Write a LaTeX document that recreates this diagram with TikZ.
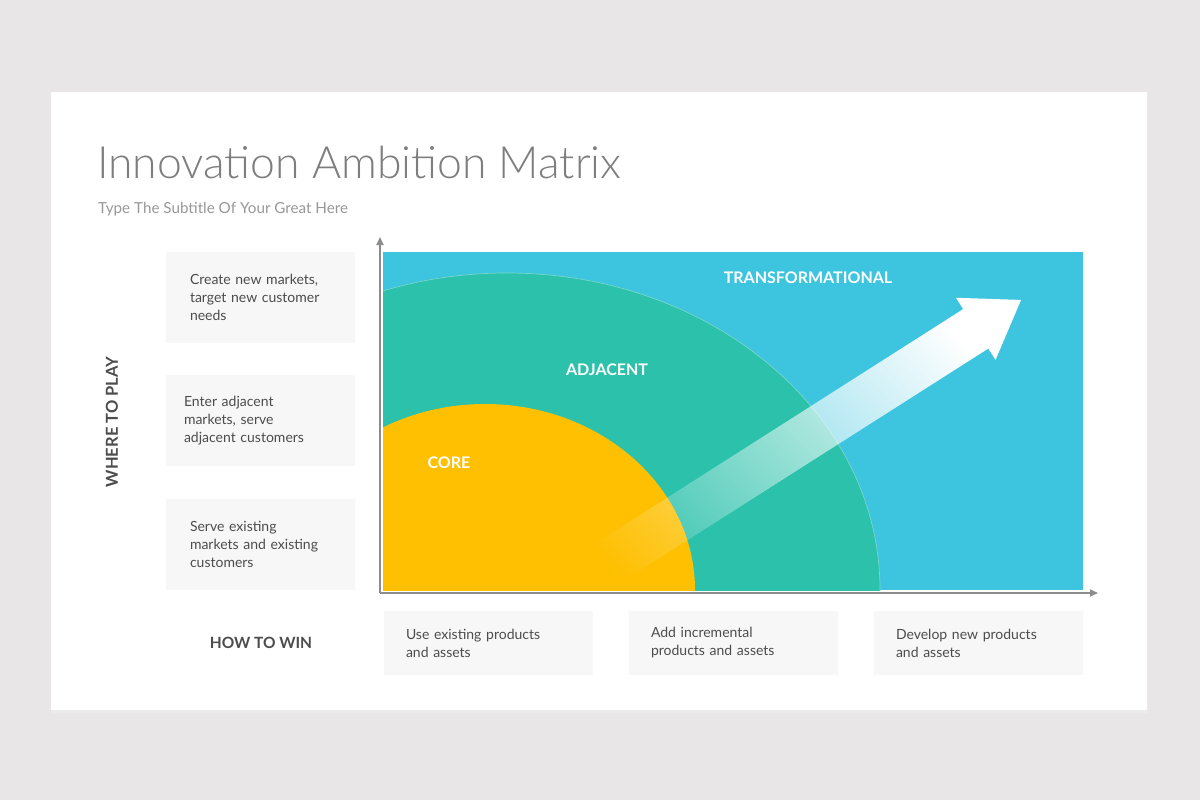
\documentclass[tikz,border=0pt]{standalone}
\usepackage{fontspec}
\setmainfont{Lato}
\newfontfamily\titlefont{Lato Light}
\usetikzlibrary{arrows.meta,fadings}
\definecolor{slidebg}{HTML}{E8E6E7}
\definecolor{boxgray}{HTML}{F7F7F7}
\definecolor{textgray}{HTML}{4C4C4C}
\definecolor{titlegray}{HTML}{7E7E7E}
\definecolor{axisgray}{HTML}{8C8C8C}
\definecolor{transblue}{HTML}{3DC5E0}
\definecolor{adjteal}{HTML}{2BC1AB}
\definecolor{coreyellow}{HTML}{FEC000}
\tikzfading[name=arrowfade, left color=transparent!100, right color=transparent!0]
\def\chartleft{383}
\def\chartright{1083}
\def\charttop{252}
\def\chartbottom{590}

\begin{document}
\begin{tikzpicture}[x=1pt,y=-1pt]
        \tikzstyle{sidebox}=[fill=boxgray, minimum width=189pt, minimum height=91pt, inner sep=0pt, align=left, text=textgray, font=\fontsize{14}{18}\selectfont]
        \tikzstyle{winbox}=[sidebox, minimum width=209pt, minimum height=64pt, text width=165pt]
        \tikzstyle{zone}=[text=white, font=\bfseries\fontsize{16}{18}\selectfont]
        \tikzstyle{axislabel}=[text=textgray, font=\bfseries\fontsize{16.5}{18}\selectfont]
        \tikzstyle{axis}=[draw=axisgray, line width=1.8pt, -{Triangle[length=8pt,width=7pt]}]

        \useasboundingbox (0,0) rectangle (1200,800);
        \fill[slidebg] (0,0) rectangle (1200,800);

        % Draw the slide card with its shadow
        \fill[black!8] (52,94) rectangle (1148,713);
        \fill[white] (51,92) rectangle (1147,710);

        % Title and subtitle
        \node[anchor=base west, inner sep=0pt, text=titlegray, font=\titlefont\fontsize{44.5}{46}\selectfont] (title) at (97,178) {Innovation Ambition Matrix};
        \node[anchor=base west, inner sep=0pt, text=titlegray!80, font=\fontsize{15.2}{18}\selectfont] (subtitle) at (98,213) {Type The Subtitle Of Your Great Here};

        % Draw the where-to-play boxes
        \foreach \name / \y / \tw / \txt in {1/297.5/141/{Create new markets,\\target new customer\\needs},
                2/420.5/153/{Enter adjacent\\markets, serve\\adjacent customers},
                3/544/141/{Serve existing\\markets and existing\\customers}}
        \node[sidebox, text width=\tw pt] (P-\name) at (260.5,\y) {\txt};

        % Draw the how-to-win boxes
        \foreach \name / \x / \txt in {1/488.5/{Use existing products\\and assets},
                2/733.5/{Add incremental\\products and assets},
                3/978.5/{Develop new products\\and assets}}
        \node[winbox] (W-\name) at (\x,643) {\txt};

        % Axis labels
        \node[axislabel, rotate=90] (play) at (112,422) {WHERE TO PLAY};
        \node[axislabel, font=\bfseries\fontsize{15.5}{18}\selectfont] (win) at (261,643) {HOW TO WIN};

        % Draw the three ambition zones
        \fill[transblue] (\chartleft,\charttop) rectangle (\chartright,\chartbottom);
        \begin{scope}
            \clip (\chartleft,\charttop) rectangle (\chartright,\chartbottom);
            \fill[adjteal, draw=white!35!adjteal, line width=0.7pt] (507,\chartbottom) ellipse [x radius=373pt, y radius=317pt];
            \fill[coreyellow] (485,\chartbottom) ellipse [x radius=210pt, y radius=186pt];
            % The growth arrow
            \begin{scope}[shift={(560,592)}, rotate=32.5]
                \fill[white, path fading=arrowfade, fading angle=32.5]
                    (0,-23.5) -- (495,-23.5) -- (495,-37) -- (549,0) -- (495,37) -- (495,23.5) -- (0,23.5) -- cycle;
            \end{scope}
        \end{scope}

        \node[zone] (Z-trans) at (808,278) {TRANSFORMATIONAL};
        \node[zone] (Z-adj) at (607,370) {ADJACENT};
        \node[zone] (Z-core) at (449,463) {CORE};

        % Axes
        \coordinate (origin) at (380,593);
        \coordinate (ytip) at (380,237);
        \coordinate (xtip) at (1098,593);
        \draw[axis] (origin) -- (ytip);
        \draw[axis] (origin) -- (xtip);
\end{tikzpicture}
\end{document}
